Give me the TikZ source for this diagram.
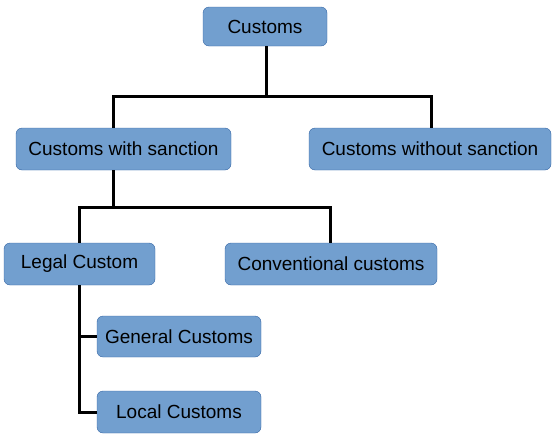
\documentclass[tikz,border=0pt]{standalone}
\usepackage{fontspec}
\setmainfont{Liberation Sans}
\usepackage{tikz}
\definecolor{boxfill}{HTML}{729FCF}
\definecolor{boxline}{HTML}{3465A4}
\begin{document}
\begin{tikzpicture}[x=1pt,y=-1pt]
        \useasboundingbox (0,0) rectangle (557,442);
        \tikzstyle{box} = [draw=boxline,fill=boxfill,rounded corners=6pt,inner sep=0pt,font=\fontsize{19}{21}\selectfont]
        \tikzstyle{link} = [line width=3pt]
        \foreach \l/\x/\y/\w/\h/\t in {top/265/26.5/124/39/Customs,
          cws/123.5/149/215/42/Customs with sanction, cwo/430/149/242/42/Customs without sanction,
          legal/79.5/264/151/42/Legal Custom, conv/331/264/212/42/Conventional customs,
          general/179/336.5/164/41/General Customs, local/179/412/164/42/Local Customs} {
          \node[box,minimum width=\w pt,minimum height=\h pt] (\l) at (\x,\y) {\t};
        }

        \coordinate (j1) at (266,96);
        \coordinate (a) at (113,96);
        \coordinate (b) at (431,96);
        \coordinate (j2) at (113,207);
        \coordinate (c) at (79,207);
        \coordinate (d) at (330,207);
        \coordinate (j3) at (79,411);

        \draw[link] (top.south -| j1) -- (j1);
        \draw[link] (a |- cws.north) -- (a) -- (b) -- (b |- cwo.north);
        \draw[link] (cws.south -| j2) -- (j2);
        \draw[link] (c |- legal.north) -- (c) -- (d) -- (d |- conv.north);
        \draw[link] (legal.south -| j3) -- (j3 |- local.west) -- (local.west);
        \draw[link] (j3 |- general.west) -- (general.west);
      \end{tikzpicture}
\end{document}
